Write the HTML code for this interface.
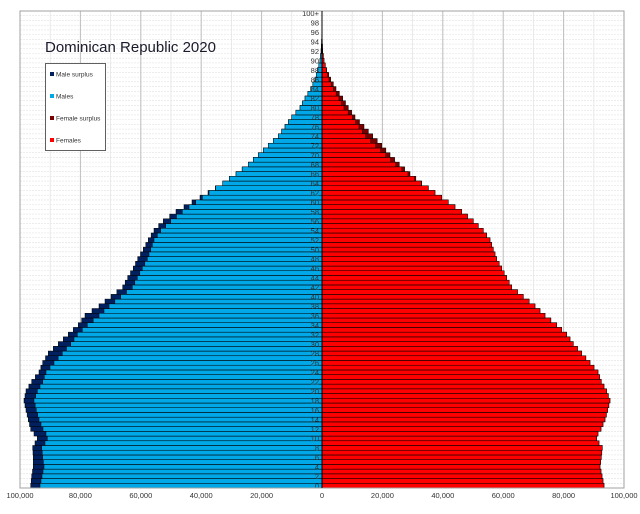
<!DOCTYPE html>
<html><head><meta charset="utf-8"><style>
html,body{margin:0;padding:0;background:#fff;}
svg{display:block;font-family:"Liberation Sans",sans-serif;}
</style></head><body>
<svg id="s" width="640" height="514" xmlns="http://www.w3.org/2000/svg">
<rect x="0" y="0" width="640" height="514" fill="#fff"/>
<g id="grid"></g>
<g id="bars"></g>
<g id="labels"></g>
<rect x="20" y="11" width="604" height="477" fill="none" stroke="#a0a0a0" stroke-width="1"/>
<line x1="322" y1="11" x2="322" y2="488" stroke="#000" stroke-width="1"/>
<text x="45" y="52" font-size="15" fill="#1a1a2a">Dominican Republic 2020</text>
<rect x="45.5" y="63.5" width="60" height="87" fill="#fff" stroke="#606060"/>
<rect x="50" y="72" width="4" height="4" fill="#002060"/><text x="56" y="76.5" font-size="6.5" fill="#333">Male surplus</text>
<rect x="50" y="94" width="4" height="4" fill="#00a8e8"/><text x="56" y="98.5" font-size="6.5" fill="#333">Males</text>
<rect x="50" y="116" width="4" height="4" fill="#7a0000"/><text x="56" y="120.5" font-size="6.5" fill="#333">Female surplus</text>
<rect x="50" y="138" width="4" height="4" fill="#ff0000"/><text x="56" y="142.5" font-size="6.5" fill="#333">Females</text>
</svg>
<script>
(function(){
var NS="http://www.w3.org/2000/svg";
function el(p,t,a,txt){var e=document.createElementNS(NS,t);for(var k in a)e.setAttribute(k,a[k]);if(txt!==undefined)e.textContent=txt;p.appendChild(e);return e;}
var F={0:282,2:280,4:278,6:279.3,8:280.3,9:277,10:274.7,11:276,12:279,14:283,16:285.7,18:288,20:284.7,22:279.3,24:276,26:268,28:259.7,30:251.3,32:244.7,34:234.7,36:223,38:213,40:201.3,42:189.7,44:184.7,46:179.7,48:174.7,50:171.3,52:168,54:161.3,56:151.3,58:139.7,60:126.3,62:113,64:99.7,66:88,68:77.3,70:68,72:59.7,74:50.7,76:42,78:33,80:26.3,82:20.7,84:14,86:8.7,88:4.7,90:2,92:0.7,94:0.3,96:0.1,98:0,100:0};
var M={0:291.3,2:290.3,4:288.7,6:288.7,8:289.3,9:287,10:284.7,11:288,12:291.3,14:293.7,16:296,18:298,20:296,22:290.3,24:283,26:279.3,28:273.7,30:263.7,32:253.7,34:243.7,36:237,38:223,40:211,42:199.3,44:194.3,46:188.7,48:184.3,50:178.7,52:173.7,54:168,56:158.7,58:146,60:130,62:114,64:99.3,66:86,68:73.7,70:63.7,72:53.7,74:43.7,76:37,78:30.3,80:22,82:17,84:11.3,86:7,88:4.5,90:2,92:1,94:0.5,96:0.1,98:0,100:0};
function interp(o){var r=[];var keys=Object.keys(o).map(Number).sort(function(a,b){return a-b});for(var a=0;a<=100;a++){if(o[a]!==undefined){r.push(o[a]);continue;}var lo=0,hi=100;for(var i=0;i<keys.length;i++){if(keys[i]<a)lo=keys[i];if(keys[i]>a){hi=keys[i];break;}}r.push(o[lo]+(o[hi]-o[lo])*(a-lo)/(hi-lo));}return r;}
var f=interp(F),m=interp(M);
var g=document.getElementById('grid'),b=document.getElementById('bars'),l=document.getElementById('labels');
var topY=11,bot=488,h=(bot-topY)/101,z=322;
el(g,'rect',{x:20,y:11,width:604,height:477,fill:'#fff'});
for(var i=1;i<101;i++){var y=topY+i*h;el(g,'line',{x1:20,x2:624,y1:y,y2:y,stroke:'#e2e2e2','stroke-width':0.6,'stroke-dasharray':'2,1'});}
for(var k=-10;k<=10;k++){var x=z+k*30.2;var major=(k%2===0);el(g,'line',{x1:x,x2:x,y1:11,y2:488,stroke:major?'#bdbdbd':'#e4e4e4','stroke-width':major?1:0.8});}
for(var a=0;a<=100;a++){var y=bot-(a+1)*h;var mv=m[a],fv=f[a],mn=Math.min(mv,fv);
 if(mv>0.2){el(b,'rect',{x:z-mv,y:y,width:mv,height:h,fill:'#002060',stroke:'#000','stroke-width':0.5});
  el(b,'rect',{x:z-mn,y:y,width:mn,height:h,fill:'#00a8e8',stroke:'#000','stroke-width':0.5});}
 if(fv>0.2){el(b,'rect',{x:z,y:y,width:fv,height:h,fill:'#7a0000',stroke:'#000','stroke-width':0.5});
  el(b,'rect',{x:z,y:y,width:mn,height:h,fill:'#ff0000',stroke:'#000','stroke-width':0.5});}
 if(a%2===0){el(l,'text',{x:319,y:y+h/2+2.8,'font-size':7.5,fill:'#333','text-anchor':'end'},a===100?'100+':String(a));}
}
var xl=['100,000','80,000','60,000','40,000','20,000','0','20,000','40,000','60,000','80,000','100,000'];
for(var i=0;i<11;i++){el(l,'text',{x:z+(i-5)*60.4,y:498,'font-size':7.5,fill:'#333','text-anchor':'middle'},xl[i]);}
})();
</script>
</body></html>
